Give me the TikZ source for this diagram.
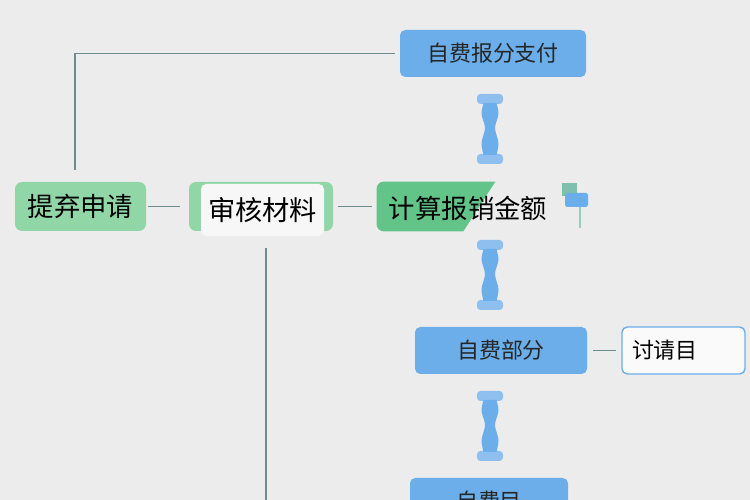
\documentclass[tikz,border=0pt]{standalone}
\usepackage{fontspec}
\setmainfont{Noto Sans CJK SC}
\usetikzlibrary{positioning}

\definecolor{bgcol}{HTML}{ECECEC}
\definecolor{greenlight}{HTML}{90D6A6}
\definecolor{greendark}{HTML}{63C489}
\definecolor{bluebox}{HTML}{6BAEEA}
\definecolor{bluecap}{HTML}{8FBFEF}
\definecolor{linecol}{HTML}{6B8E8C}
\definecolor{tealmark}{HTML}{7FBFAE}

\begin{document}
\begin{tikzpicture}[
	line/.style={draw=linecol, line width=0.7pt},
	bluenode/.style={rectangle, rounded corners=3pt, fill=bluebox, text=black!85, font=\fontsize{12.5}{15}\selectfont, text centered, minimum height=0.94cm},
	bone/.pic={
		\fill[bluecap, rounded corners=2pt] (-0.26,0.5) rectangle (0.26,0.7);
		\fill[bluecap, rounded corners=2pt] (-0.26,-0.7) rectangle (0.26,-0.5);
		\fill[bluebox] plot[smooth] coordinates {(-0.13,0.52) (-0.17,0.3) (-0.1,0.02) (-0.17,-0.28) (-0.13,-0.52)} -- plot[smooth] coordinates {(0.13,-0.52) (0.17,-0.28) (0.1,0.02) (0.17,0.3) (0.13,0.52)} -- cycle;
	}
]
	\fill[bgcol] (0,0) rectangle (15,10);
	\useasboundingbox (0,0) rectangle (15,10);

	% main row
	\node[rectangle, rounded corners=4pt, fill=greenlight, text centered, font=\fontsize{15}{18}\selectfont, minimum height=0.98cm, minimum width=2.62cm] (apply) at (1.61,5.87) {提弃申请};
	\node[rectangle, rounded corners=4pt, fill=greenlight, minimum height=0.98cm, minimum width=2.88cm] (reviewbox) at (5.22,5.87) {};
	\node[rectangle, rounded corners=3pt, fill=black!3, text centered, font=\fontsize{15.5}{18}\selectfont, minimum height=1.04cm, minimum width=2.46cm] (review) at (5.25,5.80) {审核材料};
	\node[rectangle, minimum height=0.98cm, minimum width=2.36cm] (calcbox) at (8.72,5.87) {};
	\fill[greendark] ([xshift=-0.64cm]calcbox.south east) [rounded corners=4pt] -- (calcbox.south west) -- (calcbox.north west) [sharp corners] -- (calcbox.north east) -- cycle;
	\node[font=\fontsize{15}{18}\selectfont, inner sep=0pt] (calc) at (9.36,5.84) {计算报销金额};

	% small mark
	\fill[tealmark] (11.24,6.08) rectangle (11.54,6.34);
	\fill[bluebox, rounded corners=1pt] (11.30,5.86) rectangle (11.76,6.14);
	\draw[tealmark!80, line width=1.6pt] (11.60,5.86) -- (11.60,5.44);

	% blue column
	\node[bluenode, minimum width=3.72cm] (pay) at (9.86,8.93) {自费报分支付};
	\node[bluenode, minimum width=3.44cm] (self) at (10.02,2.99) {自费部分};
	\node[rectangle, rounded corners=3pt, draw=bluebox, line width=0.8pt, fill=black!2, font=\fontsize{12.5}{15}\selectfont, text width=2.06cm, inner xsep=0.2cm, align=left, minimum height=0.94cm] (item) at (13.67,2.99) {讨请目};
	\node[bluenode, minimum width=3.16cm] (selfitem) at (9.78,-0.03) {自费目};

	% connectors
	\draw[line, shorten <=0.04cm, shorten >=0.18cm] (apply.east) -- (reviewbox.west);
	\draw[line, shorten <=0.1cm, shorten >=0.1cm] (reviewbox.east) -- (calcbox.west);
	\draw[line] ([xshift=-0.11cm, yshift=0.24cm]apply.north) |- ([xshift=-0.1cm]pay.west);
	\coordinate (reviewend) at (5.32,0);
	\draw[line] ([xshift=0.07cm, yshift=-0.24cm]review.south) -- (reviewend);
	\draw[line, shorten <=0.12cm, shorten >=0.1cm] (self.east) -- (item.west);

	\pic at (9.8,7.42) {bone};
	\pic at (9.8,4.50) {bone};
	\pic at (9.8,1.48) {bone};
\end{tikzpicture}
\end{document}
